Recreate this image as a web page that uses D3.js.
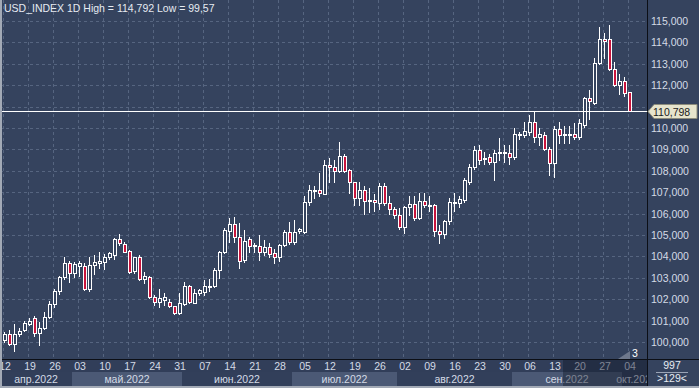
<!DOCTYPE html>
<html>
<head>
<meta charset="utf-8">
<script src="https://cdn.jsdelivr.net/npm/d3@7"></script>
<style>
body { margin: 0; background: #35435e; }
svg { display: block; font-family: Arial, "Liberation Sans", sans-serif; }
</style>
</head>
<body>
<script>
// daily bars, USD_INDEX
var dates = [
  "2022-04-12","2022-04-13","2022-04-14","2022-04-15","2022-04-18","2022-04-19","2022-04-20","2022-04-21","2022-04-22",
  "2022-04-25","2022-04-26","2022-04-27","2022-04-28","2022-04-29",
  "2022-05-02","2022-05-03","2022-05-04","2022-05-05","2022-05-06","2022-05-09","2022-05-10","2022-05-11","2022-05-12","2022-05-13",
  "2022-05-16","2022-05-17","2022-05-18","2022-05-19","2022-05-20","2022-05-23","2022-05-24","2022-05-25","2022-05-26","2022-05-27",
  "2022-05-30","2022-05-31",
  "2022-06-01","2022-06-02","2022-06-03","2022-06-06","2022-06-07","2022-06-08","2022-06-09","2022-06-10","2022-06-13","2022-06-14",
  "2022-06-15","2022-06-16","2022-06-17","2022-06-20","2022-06-21","2022-06-22","2022-06-23","2022-06-24","2022-06-27","2022-06-28",
  "2022-06-29","2022-06-30",
  "2022-07-01","2022-07-04","2022-07-05","2022-07-06","2022-07-07","2022-07-08","2022-07-11","2022-07-12","2022-07-13","2022-07-14",
  "2022-07-15","2022-07-18","2022-07-19","2022-07-20","2022-07-21","2022-07-22","2022-07-25","2022-07-26","2022-07-27","2022-07-28",
  "2022-07-29",
  "2022-08-01","2022-08-02","2022-08-03","2022-08-04","2022-08-05","2022-08-08","2022-08-09","2022-08-10","2022-08-11","2022-08-12",
  "2022-08-15","2022-08-16","2022-08-17","2022-08-18","2022-08-19","2022-08-22","2022-08-23","2022-08-24","2022-08-25","2022-08-26",
  "2022-08-29","2022-08-30","2022-08-31",
  "2022-09-01","2022-09-02","2022-09-05","2022-09-06","2022-09-07","2022-09-08","2022-09-09","2022-09-12","2022-09-13","2022-09-14",
  "2022-09-15","2022-09-16","2022-09-19","2022-09-20","2022-09-21","2022-09-22","2022-09-23","2022-09-26","2022-09-27","2022-09-28",
  "2022-09-29","2022-09-30",
  "2022-10-03","2022-10-04"
];

var open = [
  100.10,100.37,99.92,100.37,100.55,100.85,101.10,100.40,100.65,101.15,101.77,102.38,103.03,103.70,
  103.22,103.55,103.55,102.50,103.60,103.70,103.74,103.97,104.07,104.80,104.58,104.25,103.32,103.97,102.94,103.03,102.10,101.87,101.96,101.87,101.68,101.36,
  101.78,102.60,101.82,102.29,102.34,102.55,102.62,103.36,104.21,105.19,105.51,104.91,103.83,104.81,104.49,104.49,104.21,104.44,104.16,103.97,104.53,105.14,
  104.67,105.19,105.14,106.54,107.08,107.10,106.92,108.27,108.18,107.99,108.69,108.04,107.48,106.73,107.10,106.62,106.64,106.50,107.29,106.50,106.21,
  105.93,105.37,106.31,106.45,105.79,106.59,106.36,106.40,105.20,105.07,105.65,106.50,106.50,106.64,107.48,108.18,108.97,108.55,108.64,108.41,108.83,108.88,108.83,
  108.64,109.72,109.67,109.81,110.28,109.58,109.67,109.02,108.36,109.95,109.67,109.70,109.72,109.58,110.14,111.40,111.17,113.04,114.16,114.16,112.76,112.01,
  112.20,111.68
];
var high = [
  100.45,100.56,100.84,100.65,101.00,101.10,101.20,100.95,101.40,101.90,102.50,103.10,103.97,103.78,
  103.74,103.78,103.70,103.97,104.07,104.20,104.10,104.20,104.86,105.05,104.67,104.30,103.97,104.07,103.27,103.08,102.20,102.48,102.29,102.00,101.70,102.29,
  102.80,102.66,102.48,102.50,102.90,102.95,103.45,104.25,105.33,105.79,105.84,105.56,105.23,104.90,104.63,105.00,104.75,104.63,104.35,104.60,105.23,105.61,
  105.70,105.35,106.82,107.34,107.30,107.90,108.50,108.60,108.50,109.35,108.80,108.10,107.50,107.48,107.29,107.20,106.90,107.43,107.43,106.80,106.30,
  106.25,106.35,106.82,106.82,106.96,106.96,106.82,106.45,105.45,105.70,106.73,106.96,106.80,107.65,108.30,109.16,109.20,108.90,108.80,108.97,109.53,109.20,109.20,
  110.00,109.80,110.28,110.61,110.79,110.00,109.80,109.10,110.10,110.30,110.10,110.10,110.25,110.40,111.45,111.77,113.27,114.72,114.44,114.792,113.08,112.50,
  112.40,111.70
];
var low = [
  100.00,99.86,99.57,100.30,100.50,100.80,100.30,99.85,100.60,101.10,101.65,102.25,102.95,102.80,
  103.03,103.10,102.45,102.38,103.20,103.45,103.40,103.90,103.90,104.53,104.20,103.22,103.22,102.90,102.75,102.05,101.73,101.63,101.73,101.63,101.30,101.30,
  101.73,101.82,101.80,102.20,102.20,102.40,102.55,103.00,104.15,104.67,104.67,103.46,103.74,104.21,104.21,103.83,104.07,103.97,103.69,103.79,104.50,104.60,
  104.60,105.10,105.10,106.40,106.73,106.80,106.90,107.48,107.48,107.95,107.95,106.96,106.40,106.40,106.00,106.07,106.10,106.20,106.40,106.00,105.79,
  105.28,105.09,105.95,105.70,105.75,106.30,106.10,104.95,104.64,104.87,105.50,106.10,106.30,106.55,107.40,108.10,108.30,108.30,108.32,107.57,108.50,108.40,108.30,
  108.55,109.50,109.60,109.67,109.35,109.20,108.95,107.80,107.70,109.30,109.30,109.30,109.50,109.50,110.05,110.42,111.10,113.00,113.27,112.70,111.95,111.60,
  111.50,110.79
];
var close = [
  100.37,99.92,100.37,100.50,100.90,101.00,100.40,100.65,101.15,101.77,102.38,103.03,103.70,103.22,
  103.64,103.70,102.50,103.60,103.74,103.80,103.97,104.15,104.80,104.63,104.20,103.27,103.97,102.94,103.08,102.10,101.87,102.05,102.10,101.68,101.36,101.82,
  102.60,101.87,102.29,102.43,102.60,102.62,103.36,104.21,105.23,105.51,104.91,103.79,104.72,104.49,104.53,104.21,104.44,104.11,103.97,104.53,105.14,104.67,
  105.14,105.28,106.54,107.10,107.10,106.96,108.27,108.18,107.99,108.69,107.99,107.48,106.73,107.10,106.59,106.64,106.54,107.29,106.50,106.21,105.93,
  105.37,106.31,106.45,105.79,106.59,106.40,106.40,105.20,105.07,105.65,106.54,106.54,106.68,107.57,108.18,108.97,108.50,108.60,108.41,108.83,108.88,108.83,108.64,
  109.72,109.67,109.86,110.28,109.58,109.72,109.02,108.36,109.95,109.67,109.72,109.72,109.58,110.23,111.40,111.26,113.04,114.16,114.07,112.76,112.01,112.20,
  111.64,110.798
];

var tickDates = ["2022-04-12","2022-04-19","2022-04-26","2022-05-03","2022-05-10","2022-05-17","2022-05-24","2022-05-31",
  "2022-06-07","2022-06-14","2022-06-21","2022-06-28","2022-07-05","2022-07-12","2022-07-19","2022-07-26",
  "2022-08-02","2022-08-09","2022-08-16","2022-08-23","2022-08-30","2022-09-06","2022-09-13","2022-09-20","2022-09-27","2022-10-04"];
var monthStarts = ["2022-04-12","2022-05-02","2022-06-01","2022-07-01","2022-08-01","2022-09-01","2022-10-03"];
var monthLabels = ["апр.2022","май.2022","июн.2022","июл.2022","авг.2022","сен.2022","окт.2022"];
var priceTicks = [100,101,102,103,104,105,106,107,108,109,110,111,112,113,114,115];
var symbol = "USD_INDEX 1D";
var barsInfo = ["997", ">129<"];

var W = 699, H = 388;
var plotR = 647, plotB = 359;
var fs = 10.5;

var ru = d3.formatLocale({decimal: ",", thousands: " ", grouping: [3], currency: ["", ""]});
var fmtPrice = ru.format(".3f");
var fmtShort = ru.format(".3~f");
var parse = d3.timeParse("%Y-%m-%d");

var x = d3.scalePoint().domain(dates).range([4, 629]);
var y = d3.scaleLinear().domain([100, 115]).range([342, 21]);

var svg = d3.select("body").append("svg").attr("width", W).attr("height", H);

svg.append("rect").attr("width", W).attr("height", H).attr("fill", "#35435e");

var defs = svg.append("defs");
defs.append("clipPath").attr("id", "plot")
  .append("rect").attr("x", 2).attr("y", 0).attr("width", plotR - 2).attr("height", plotB);
defs.append("clipPath").attr("id", "taxis")
  .append("rect").attr("x", 2).attr("y", plotB).attr("width", plotR - 2).attr("height", H - plotB);

// grid
var grid = svg.append("g").attr("clip-path", "url(#plot)")
  .attr("stroke", "#566580").attr("stroke-dasharray", "3,3").attr("stroke-width", 1);
grid.selectAll(".hg").data(priceTicks).enter().append("line")
  .attr("x1", 0).attr("x2", plotR)
  .attr("y1", function(d) { return Math.round(y(d)) + 0.5; })
  .attr("y2", function(d) { return Math.round(y(d)) + 0.5; });
grid.selectAll(".vg").data(tickDates).enter().append("line")
  .attr("y1", 0).attr("y2", plotB)
  .attr("x1", function(d) { return x(d) - 0.5; })
  .attr("x2", function(d) { return x(d) - 0.5; });

// candles
var bars = dates.map(function(d, i) {
  return {date: d, o: open[i], h: high[i], l: low[i], c: close[i]};
});
function bodyTop(d) { return Math.round(y(Math.max(d.o, d.c))); }
function bodyBot(d) { return Math.round(y(Math.min(d.o, d.c))); }
var cg = svg.append("g").attr("clip-path", "url(#plot)").attr("shape-rendering", "crispEdges");
var candle = cg.selectAll(".c").data(bars).enter().append("g");
candle.append("rect")
  .attr("x", function(d) { return x(d.date); })
  .attr("width", 1)
  .attr("y", function(d) { return Math.round(y(d.h)); })
  .attr("height", function(d) { return Math.max(1, Math.round(y(d.l)) - Math.round(y(d.h)) + 1); })
  .attr("fill", "#ffffff");
candle.append("rect")
  .attr("x", function(d) { return x(d.date) - 1; })
  .attr("width", 4)
  .attr("y", bodyTop)
  .attr("height", function(d) { return Math.max(2, bodyBot(d) - bodyTop(d) + 1); })
  .attr("fill", "#ffffff");
candle.filter(function(d) { return bodyBot(d) - bodyTop(d) >= 2; })
  .append("rect")
  .attr("x", function(d) { return x(d.date); })
  .attr("width", 2)
  .attr("y", function(d) { return bodyTop(d) + 1; })
  .attr("height", function(d) { return bodyBot(d) - bodyTop(d) - 1; })
  .attr("fill", function(d) { return d.c < d.o ? "#c8143c" : "#35435e"; });

// last price line
var last = close[close.length - 1];
var lastY = Math.round(y(last)) + 0.5;
svg.append("line").attr("x1", 0).attr("x2", plotR).attr("y1", lastY).attr("y2", lastY)
  .attr("stroke", "#ffffff").attr("stroke-width", 1);

// title
svg.append("text").attr("x", 4).attr("y", 12).attr("fill", "#e6ebf2").attr("font-size", fs)
  .text(symbol + " High = " + fmtShort(d3.max(high)) + " Low = " + fmtShort(d3.min(low)));

// separators
svg.append("line").attr("x1", plotR + 0.5).attr("x2", plotR + 0.5).attr("y1", 0).attr("y2", H)
  .attr("stroke", "#0c0f16");

// price axis (labels hidden where the price tag sits)
var ax = svg.append("g").attr("fill", "#d4dbe6").attr("font-size", fs);
ax.selectAll("text").data(priceTicks.filter(function(d) { return Math.abs(y(d) - lastY) > 10; }))
  .enter().append("text")
  .attr("x", 651).attr("y", function(d) { return y(d) + 4; })
  .text(function(d) { return fmtPrice(d); });

// last price tag
var tag = svg.append("g");
tag.append("path")
  .attr("d", "M" + (plotR + 1) + "," + lastY + "L" + (plotR + 7) + "," + (lastY - 7) + "H697V" + (lastY + 7) + "H" + (plotR + 7) + "Z")
  .attr("fill", "#e6e4cc").attr("stroke", "#8c8c7c");
tag.append("text").attr("x", 653).attr("y", lastY + 4).attr("fill", "#1a1a1a").attr("font-size", fs)
  .text(fmtPrice(last));

// time axis
svg.append("rect").attr("x", 0).attr("y", plotB).attr("width", plotR).attr("height", H - plotB).attr("fill", "#313e59");
var bandX = monthStarts.map(function(d, i) { return i === 0 ? 0 : x(d) - 2; });
var tg = svg.append("g").attr("clip-path", "url(#taxis)");
monthLabels.forEach(function(m, i) {
  var x0 = bandX[i], x1 = i < bandX.length - 1 ? bandX[i + 1] : plotR + 4;
  tg.append("rect").attr("x", x0).attr("y", 372).attr("width", Math.min(x1, plotR) - x0).attr("height", 14)
    .attr("fill", i % 2 ? "#4b5975" : "#323f5a");
  tg.append("text").attr("x", (x0 + x1) / 2).attr("y", 383).attr("text-anchor", "middle")
    .attr("fill", "#d4dbe6").attr("font-size", fs).text(m);
});
var fmtDay = d3.timeFormat("%d");
tg.selectAll(".tl").data(tickDates).enter().append("text")
  .attr("x", function(d) { return x(d) + 1; }).attr("y", 370).attr("text-anchor", "middle")
  .attr("fill", "#d4dbe6").attr("font-size", fs)
  .text(function(d) { return fmtDay(parse(d)); });

// shifted area shade
svg.append("rect").attr("x", 563).attr("y", plotB + 1).attr("width", plotR - 563).attr("height", H - plotB - 3)
  .attr("fill", "#141b2a").attr("opacity", 0.45);
svg.append("path").attr("d", "M618,359L630,351V359Z").attr("fill", "#6e788c");
svg.append("text").attr("x", 632).attr("y", 357).attr("fill", "#ffffff").attr("font-size", fs).text("3");

svg.append("line").attr("x1", 0).attr("x2", W).attr("y1", plotB + 0.5).attr("y2", plotB + 0.5).attr("stroke", "#0c0f16");

// bars info box
svg.append("text").attr("x", 672).attr("y", 369).attr("text-anchor", "middle").attr("fill", "#e6ebf2")
  .attr("font-size", fs).text(barsInfo[0]);
svg.append("line").attr("x1", 656).attr("x2", 688).attr("y1", 372.5).attr("y2", 372.5).attr("stroke", "#9aa4b6");
svg.append("text").attr("x", 672).attr("y", 382).attr("text-anchor", "middle").attr("fill", "#e6ebf2")
  .attr("font-size", fs).text(barsInfo[1]);

// frame
svg.append("rect").attr("x", 0).attr("y", 0).attr("width", 2).attr("height", H).attr("fill", "#a3aab6");
svg.append("rect").attr("x", 0).attr("y", H - 2).attr("width", W).attr("height", 2).attr("fill", "#a3aab6");
</script>
</body>
</html>
